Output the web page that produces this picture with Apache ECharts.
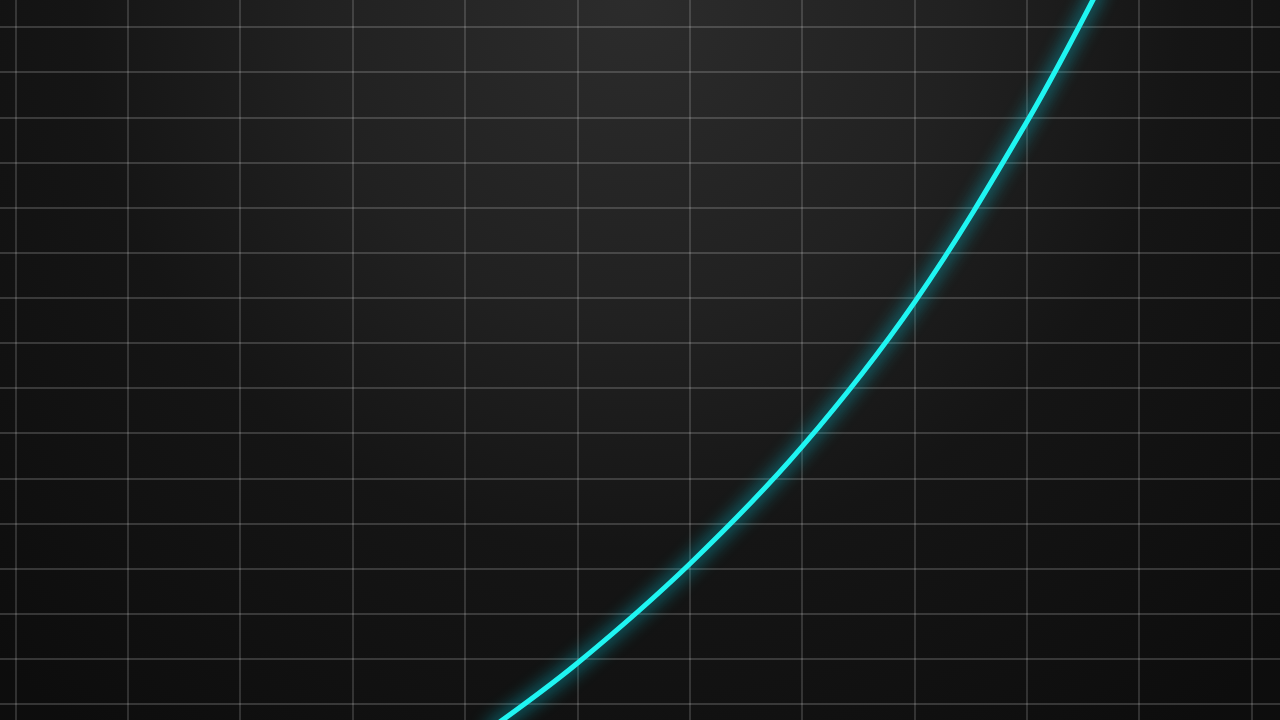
<!DOCTYPE html>
<html>
<head>
<meta charset="utf-8">
<style>
html,body{margin:0;padding:0;background:#111;overflow:hidden;width:1280px;height:720px;position:relative;}
#chart{position:absolute;left:-97px;top:-18px;width:1461px;height:767px;}
</style>
<script src="https://cdn.jsdelivr.net/npm/echarts@6/dist/echarts.min.js"></script>
</head>
<body>
<div id="chart"></div>
<script>
// Curve samples in grid units (x: vertical grid cells, y: horizontal grid cells)
var curveX = [5.2, 6.0, 7.0, 8.0, 9.0, 10.0, 10.65];
var curveY = [0.4, 1.9, 4.1, 6.7, 9.9, 13.9, 16.9];
var xMax = 13;
var yMax = 17;

var data = curveX.map(function (x, i) { return [x, curveY[i]]; });

var chart = echarts.init(document.getElementById('chart'));
chart.setOption({
  animation: false,
  backgroundColor: {
    type: 'radial', x: 0.5, y: 0.02, r: 1.2,
    colorStops: [
      { offset: 0, color: '#2c2c2c' },
      { offset: 0.35, color: '#212121' },
      { offset: 0.6, color: '#151515' },
      { offset: 1, color: '#0d0d0d' }
    ]
  },
  grid: { left: 0, right: 0, top: 0, bottom: 0, containLabel: false },
  xAxis: {
    type: 'value', min: 0, max: xMax, interval: 1,
    axisLine: { show: false }, axisTick: { show: false }, axisLabel: { show: false },
    splitLine: { show: true, lineStyle: { color: 'rgba(255,255,255,0.17)', width: 1.8 } }
  },
  yAxis: {
    type: 'value', min: 0, max: yMax, interval: 1,
    axisLine: { show: false }, axisTick: { show: false }, axisLabel: { show: false },
    splitLine: { show: true, lineStyle: { color: 'rgba(255,255,255,0.17)', width: 1.8 } }
  },
  series: [{
    type: 'line',
    data: data,
    smooth: 0.35,
    symbol: 'none',
    clip: false,
    lineStyle: {
      color: '#1ff5f2',
      width: 5,
      shadowBlur: 18,
      shadowColor: 'rgba(0,230,255,1)'
    }
  }]
});
</script>
</body>
</html>
